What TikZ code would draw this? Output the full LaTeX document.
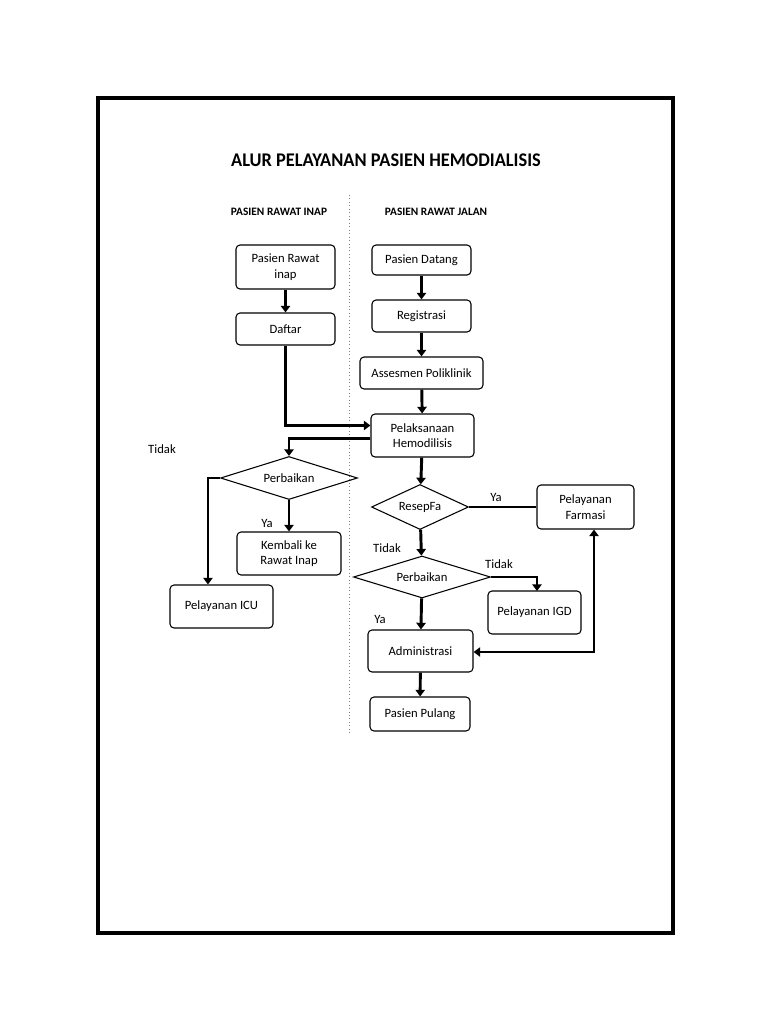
\documentclass[tikz,border=0pt]{standalone}
\usepackage{fontspec}
\setmainfont{Carlito}
\usetikzlibrary{shapes.geometric,arrows.meta}
\begin{document}
\begin{tikzpicture}[x=0.75pt,y=-0.75pt,
 box/.style={draw,rounded corners=3pt,line width=0.8pt,align=center,font=\fontsize{9.5}{11.5}\selectfont,inner sep=0pt},
 dia/.style={draw,diamond,line width=0.8pt,font=\fontsize{9.5}{11.5}\selectfont,inner sep=0pt,aspect=3},
 arr/.style={line width=2.2pt,-{Triangle[length=5pt,width=7pt]}},
 lab/.style={font=\fontsize{9.5}{11.5}\selectfont}]
\useasboundingbox (0,0) rectangle (768,1024);
\node[draw,line width=2.4pt,minimum width=575*0.75pt,minimum height=835*0.75pt,inner sep=0pt] (frame) at (385.5,515.5) {};
\node[font=\fontsize{14.5}{16}\selectfont\bfseries,xscale=0.95] (title) at (386,160) {ALUR PELAYANAN PASIEN HEMODIALISIS};
\node[font=\fontsize{8.5}{10}\selectfont\bfseries] (h1) at (279,212) {PASIEN RAWAT INAP};
\node[font=\fontsize{8.5}{10}\selectfont\bfseries] (h2) at (436,212) {PASIEN RAWAT JALAN};
\coordinate (d1) at (349,195); \coordinate (d2) at (349,735);
\draw[gray,dotted,line width=0.6pt] (d1) -- (d2);
\newcommand\bx[6]{\node[box,minimum width=(#4-#2)*0.75pt,minimum height=(#5-#3)*0.75pt] (#1) at ({(#2+#4)/2},{(#3+#5)/2}) {#6};}
\bx{pri}{236}{245}{335}{289}{Pasien Rawat\\inap}
\bx{daf}{236}{313}{335}{345}{Daftar}
\bx{pd}{372}{245}{471}{275}{Pasien Datang}
\bx{reg}{372}{300}{471}{332}{Registrasi}
\bx{ass}{360}{357}{483}{389}{Assesmen Poliklinik}
\bx{pel}{371}{414}{474}{457}{Pelaksanaan\\Hemodilisis}
\bx{kem}{237}{532}{341}{575}{Kembali ke\\Rawat Inap}
\bx{icu}{170}{585}{273}{628}{Pelayanan ICU}
\bx{far}{537}{485}{634}{529}{Pelayanan\\Farmasi}
\bx{igd}{488}{591}{581}{634}{Pelayanan IGD}
\bx{adm}{368}{630}{473}{672}{Administrasi}
\bx{pp}{370}{697}{470}{731}{Pasien Pulang}
\node[dia,minimum width=137*0.75pt,minimum height=43*0.75pt] (pb1) at (289,478) {Perbaikan};
\node[dia,minimum width=97*0.75pt,minimum height=45*0.75pt,aspect=2.2] (res) at (420,507) {ResepFa};
\node[dia,minimum width=137*0.75pt,minimum height=42*0.75pt] (pb2) at (422,577) {Perbaikan};
\draw[arr] (pri) -- (daf);
\draw[arr] (pd) -- (reg);
\draw[arr] (reg) -- (ass);
\draw[arr] (ass) -- (pel);
\draw[arr] (daf.south) |- ([yshift=7.5pt]pel.west);
\draw[arr] ([yshift=-2.5pt]pel.west) -| (pb1.north);
\draw[arr] (pb1.west) -- ++(-12,0) coordinate (c1) -- (c1 |- icu.north);
\draw[arr] (pb1.south) -- (kem);
\draw[arr] (pel) -- (res);
\draw[line width=2.2pt] (res.east) -- (far.west);
\draw[arr] (res) -- (pb2);
\draw[arr] (pb2.east) -| (537,591);
\draw[arr] (pb2) -- (adm);
\draw[arr] (adm) -- (pp);
\coordinate (cr) at (594,652);
\draw[line width=2.2pt,{Triangle[length=5pt,width=7pt]}-{Triangle[length=5pt,width=7pt]}] (adm.east |- cr) -- (cr) -- (cr |- far.south);
\node[lab] (t1) at (162,449) {Tidak};
\node[lab] (y1) at (267,523) {Ya};
\node[lab] (y2) at (496,497) {Ya};
\node[lab] (t2) at (387,548) {Tidak};
\node[lab] (t3) at (499,564) {Tidak};
\node[lab] (y3) at (380,619) {Ya};
\end{tikzpicture}
\end{document}
